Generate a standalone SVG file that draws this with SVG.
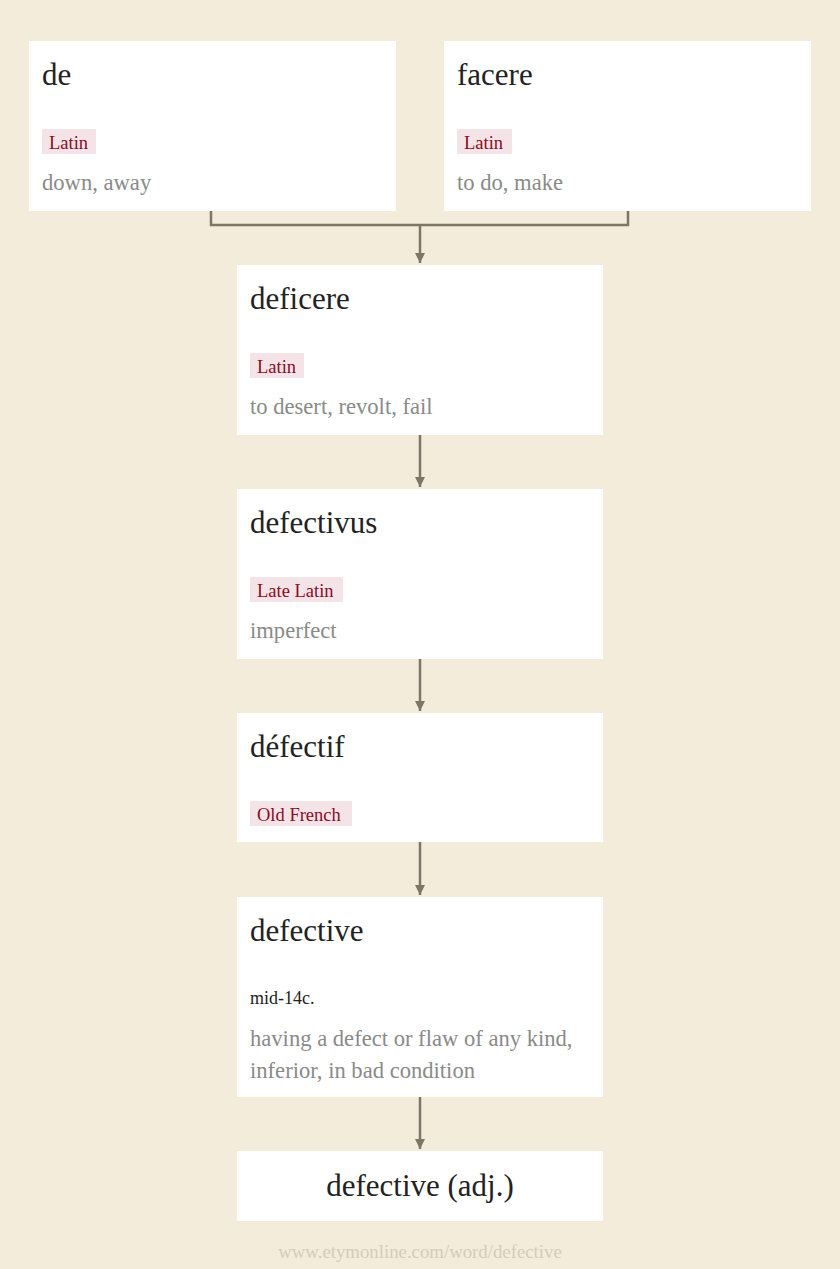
<svg xmlns="http://www.w3.org/2000/svg" width="840" height="1269" viewBox="0 0 840 1269">
<style>
.box{fill:#ffffff}
.title{font-family:"Liberation Serif",serif;font-size:31px;fill:#222222}
.tagbg{fill:#f4e4e7}
.tag{font-family:"Liberation Serif",serif;font-size:18.5px;fill:#8b0a26}
.gloss{font-family:"Liberation Serif",serif;font-size:22.6px;fill:#8a8a8a}
.date{font-family:"Liberation Serif",serif;font-size:18px;fill:#222222}
.conn{fill:none;stroke:#7d7567;stroke-width:2.5}
.foot{font-family:"Liberation Serif",serif;font-size:18.8px;fill:#d3cbbb}
</style>
<defs>
<marker id="arr" viewBox="0 0 10 10" refX="10" refY="5" markerWidth="10" markerHeight="10" markerUnits="userSpaceOnUse" orient="auto">
<path d="M0,0 L10,5 L0,10 Z" fill="#7d7567"/>
</marker>
</defs>
<rect width="840" height="1269" fill="#f3ecdb"/>
<g id="connectors">
<path class="conn" d="M211,211 V225 H628 V211"/>
<path class="conn" d="M420,225 V263" marker-end="url(#arr)"/>
<path class="conn" d="M420,435 V487" marker-end="url(#arr)"/>
<path class="conn" d="M420,659 V711" marker-end="url(#arr)"/>
<path class="conn" d="M420,842 V895" marker-end="url(#arr)"/>
<path class="conn" d="M420,1097 V1149" marker-end="url(#arr)"/>
</g>
<g id="node-de">
<rect class="box" x="29" y="41" width="367" height="170"/>
<text class="title" x="42" y="85">de</text>
<rect class="tagbg" x="42" y="129" width="54" height="25" rx="1"/>
<text class="tag" x="49" y="149">Latin</text>
<text class="gloss" x="42" y="190">down, away</text>
</g>
<g id="node-facere">
<rect class="box" x="444" y="41" width="367" height="170"/>
<text class="title" x="457" y="85">facere</text>
<rect class="tagbg" x="457" y="129" width="55" height="25" rx="1"/>
<text class="tag" x="464" y="149">Latin</text>
<text class="gloss" x="457" y="190">to do, make</text>
</g>
<g id="node-deficere">
<rect class="box" x="237" y="265" width="366" height="170"/>
<text class="title" x="250" y="309">deficere</text>
<rect class="tagbg" x="250" y="353" width="54" height="25" rx="1"/>
<text class="tag" x="257" y="373">Latin</text>
<text class="gloss" x="250" y="414">to desert, revolt, fail</text>
</g>
<g id="node-defectivus">
<rect class="box" x="237" y="489" width="366" height="170"/>
<text class="title" x="250" y="533">defectivus</text>
<rect class="tagbg" x="250" y="577" width="93" height="25" rx="1"/>
<text class="tag" x="257" y="597">Late Latin</text>
<text class="gloss" x="250" y="638">imperfect</text>
</g>
<g id="node-defectif">
<rect class="box" x="237" y="713" width="366" height="129"/>
<text class="title" x="250" y="757">défectif</text>
<rect class="tagbg" x="250" y="801" width="102" height="25" rx="1"/>
<text class="tag" x="257" y="821">Old French</text>
</g>
<g id="node-defective">
<rect class="box" x="237" y="897" width="366" height="200"/>
<text class="title" x="250" y="941">defective</text>
<text class="date" x="250" y="1004">mid-14c.</text>
<text class="gloss" x="250" y="1046">having a defect or flaw of any kind,</text>
<text class="gloss" x="250" y="1078">inferior, in bad condition</text>
</g>
<g id="node-final">
<rect class="box" x="237" y="1151" width="366" height="70"/>
<text class="title" x="420" y="1196" text-anchor="middle">defective (adj.)</text>
</g>
<text class="foot" x="420" y="1258" text-anchor="middle">www.etymonline.com/word/defective</text>
</svg>
